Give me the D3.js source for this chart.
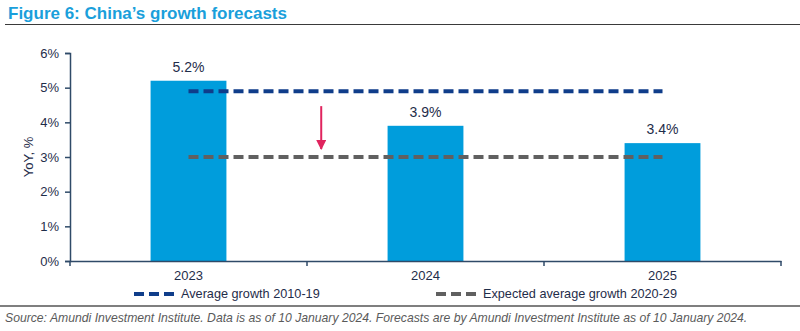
<!DOCTYPE html>
<html>
<head>
<meta charset="utf-8">
<script src="https://cdn.jsdelivr.net/npm/d3@7"></script>
<style>
  body { margin: 0; background: #fff; }
  svg { display: block; font-family: "Liberation Sans", Arial, sans-serif; }
</style>
</head>
<body>
<svg id="chart" width="800" height="331"></svg>
<script>
// China growth: annual forecasts vs. long-run averages
const years = ['2023', '2024', '2025'];
const growth = [5.2, 3.9, 3.4];
const avg2010s = 4.9;
const expected2020s = 3.0;
const yTicks = [0, 1, 2, 3, 4, 5, 6];
const legendLabels = ['Average growth 2010-19', 'Expected average growth 2020-29'];

const barColor = '#009ddc';
const navy = '#0f3d8a';
const grey = '#606060';
const textColor = '#1f2d4a';
const axisColor = '#2f4a68';

const svg = d3.select('#chart');
const margin = { top: 53, right: 19, bottom: 70, left: 70 };
const width = 800, height = 331;

// Title and rule
svg.append('text')
  .attr('x', 8).attr('y', 19)
  .attr('font-size', 17).attr('font-weight', 'bold')
  .attr('fill', '#1a9fdb')
  .text('Figure 6: China\u2019s growth forecasts');

svg.append('line')
  .attr('x1', 5).attr('x2', 800).attr('y1', 24.5).attr('y2', 24.5)
  .attr('stroke', '#3a3a3a').attr('stroke-width', 1);

const x = d3.scaleBand()
  .domain(years)
  .range([margin.left, width - margin.right])
  .paddingInner(0.68).paddingOuter(0.34);

const y = d3.scaleLinear()
  .domain([0, 6])
  .range([height - margin.bottom, margin.top]);

const yBottom = y(0);

// Bars
svg.append('g').selectAll('rect')
  .data(years)
  .join('rect')
  .attr('x', d => x(d))
  .attr('y', (d, i) => y(growth[i]))
  .attr('width', x.bandwidth())
  .attr('height', (d, i) => yBottom - y(growth[i]))
  .attr('fill', barColor);

// Value labels
svg.append('g').selectAll('text')
  .data(years)
  .join('text')
  .attr('x', d => x(d) + x.bandwidth() / 2)
  .attr('y', (d, i) => y(growth[i]) - 9)
  .attr('text-anchor', 'middle')
  .attr('font-size', 14)
  .attr('fill', textColor)
  .text((d, i) => growth[i].toFixed(1) + '%');

// Average lines, drawn centre-to-centre
const cx = d => x(d) + x.bandwidth() / 2;
const x0 = cx(years[0]), x1 = cx(years[years.length - 1]);

svg.append('line')
  .attr('x1', x0).attr('x2', x1)
  .attr('y1', y(avg2010s)).attr('y2', y(avg2010s))
  .attr('stroke', navy).attr('stroke-width', 4)
  .attr('stroke-dasharray', '10,5');

svg.append('line')
  .attr('x1', x0).attr('x2', x1)
  .attr('y1', y(expected2020s)).attr('y2', y(expected2020s))
  .attr('stroke', grey).attr('stroke-width', 4)
  .attr('stroke-dasharray', '10,5');

// Downward arrow between the two averages
const arrowX = x0 + (cx(years[1]) - x0) * 0.56;
const defs = svg.append('defs');
defs.append('marker')
  .attr('id', 'arrowhead')
  .attr('viewBox', '0 0 10 10')
  .attr('refX', 9).attr('refY', 5)
  .attr('markerWidth', 5).attr('markerHeight', 5)
  .attr('orient', 'auto')
  .append('path')
  .attr('d', 'M0,0 L10,5 L0,10 Z')
  .attr('fill', '#e0245e');

svg.append('line')
  .attr('x1', arrowX).attr('x2', arrowX)
  .attr('y1', y(avg2010s) + 15).attr('y2', y(expected2020s) - 8)
  .attr('stroke', '#e0245e').attr('stroke-width', 2)
  .attr('marker-end', 'url(#arrowhead)');

// Axes
const yAxis = svg.append('g')
  .attr('transform', `translate(${margin.left},0)`)
  .call(d3.axisLeft(y).tickValues(yTicks).tickFormat(d => d + '%').tickSizeOuter(0).tickSize(5));

const xAxis = svg.append('g')
  .attr('transform', `translate(0,${yBottom})`)
  .call(d3.axisBottom(x).tickSize(0).tickSizeOuter(0));

// Boundary ticks on the category axis
const edges = [margin.left].concat(years.map(d => x(d) + x.bandwidth() + x.step() * 0.34));
xAxis.selectAll('.edge')
  .data(edges)
  .join('line')
  .attr('class', 'edge')
  .attr('x1', d => d).attr('x2', d => d)
  .attr('y1', 0).attr('y2', 5)
  .attr('stroke', axisColor).attr('stroke-width', 1.5);

[yAxis, xAxis].forEach(g => {
  g.selectAll('.domain').attr('stroke', axisColor).attr('stroke-width', 1.5);
  g.selectAll('.tick line').attr('stroke', axisColor).attr('stroke-width', 1.5);
  g.selectAll('text').attr('fill', textColor).attr('font-size', 13)
    .attr('font-family', '"Liberation Sans", Arial, sans-serif');
});
yAxis.selectAll('text').attr('dx', '-3');
xAxis.selectAll('text').attr('dy', '1.25em');

// Y title
svg.append('text')
  .attr('transform', `translate(33,${y(3)}) rotate(-90)`)
  .attr('text-anchor', 'middle')
  .attr('font-size', 13)
  .attr('fill', textColor)
  .text('YoY, %');

// Legend
const legend = svg.append('g').attr('transform', 'translate(0,294)');
const legendItems = [
  { x: 134, color: navy, label: legendLabels[0] },
  { x: 436, color: grey, label: legendLabels[1] }
];
legendItems.forEach(item => {
  legend.append('line')
    .attr('x1', item.x).attr('x2', item.x + 40)
    .attr('y1', 0).attr('y2', 0)
    .attr('stroke', item.color).attr('stroke-width', 4)
    .attr('stroke-dasharray', '10,5');
  legend.append('text')
    .attr('x', item.x + 47).attr('y', 0)
    .attr('dy', '0.35em')
    .attr('font-size', 12.7)
    .attr('fill', textColor)
    .text(item.label);
});

// Bottom rule and source note
svg.append('line')
  .attr('x1', 0).attr('x2', 800).attr('y1', 306).attr('y2', 306)
  .attr('stroke', '#555').attr('stroke-width', 1.5);

svg.append('text')
  .attr('x', 5).attr('y', 322)
  .attr('font-size', 12.2)
  .attr('font-style', 'italic')
  .attr('fill', '#5a5a5a')
  .text('Source: Amundi Investment Institute. Data is as of 10 January 2024. Forecasts are by Amundi Investment Institute as of 10 January 2024.');
</script>
</body>
</html>
